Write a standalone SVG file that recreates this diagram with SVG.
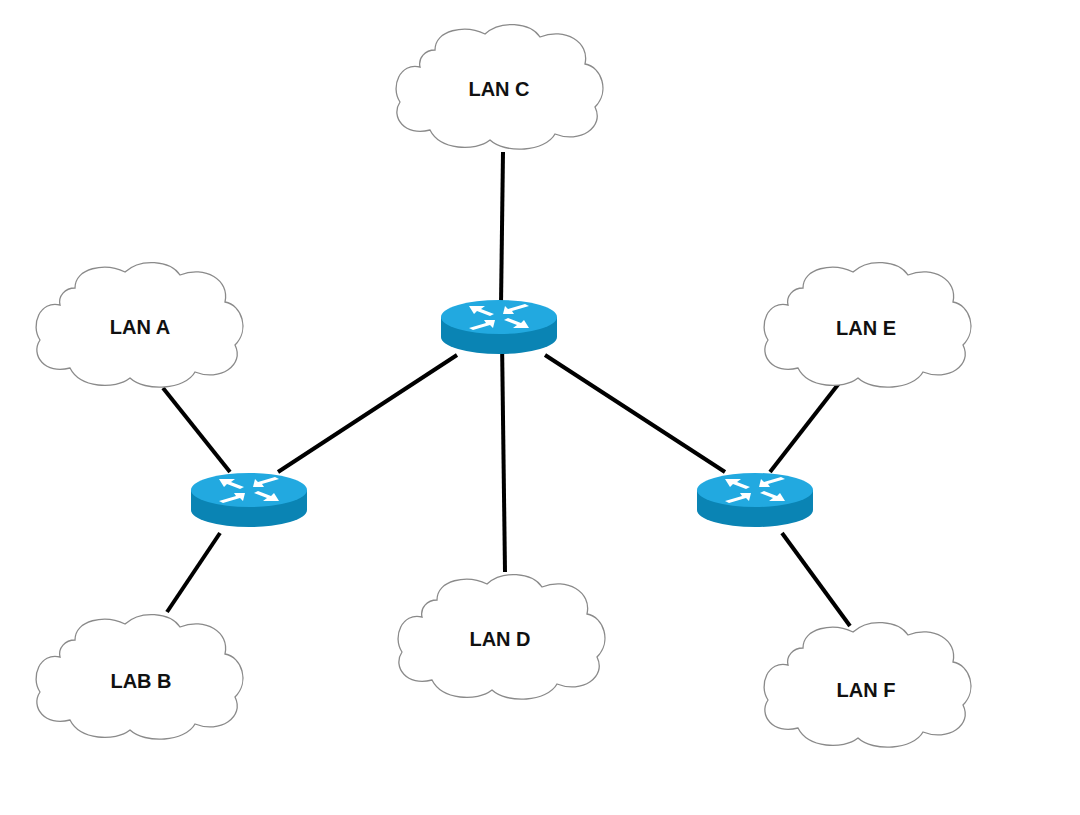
<svg xmlns="http://www.w3.org/2000/svg" width="1080" height="815" viewBox="0 0 1080 815">
<style>
.cloud{fill:#fff;stroke:#8a8a8a;stroke-width:1.3}
.lbl{font-family:"Liberation Sans",Arial,sans-serif;font-weight:bold;font-size:20px;fill:#111;text-anchor:middle}
.ln{stroke:#000;stroke-width:4;fill:none}
.side{fill:#0a84b4}
.top{fill:#22a9e0}
.arr{fill:#fff}
</style>
<defs>
<path id="cl" class="cloud" d="M30,45 C10,40 0,65 10,80 C0,95 15,115 40,108 C50,128 85,130 100,118 C115,132 155,130 165,112 C190,122 215,105 205,85 C220,70 212,45 195,42 C200,20 175,5 150,15 C140,0 110,-2 95,12 C75,2 45,8 45,28 C35,28 28,36 30,45 Z"/>
<g id="rt">
<path class="side" d="M-58,0 L-58,20 A58,17 0 0 0 58,20 L58,0 Z"/>
<ellipse class="top" cx="0" cy="0" rx="58" ry="17"/>
<g class="arr">
<polygon points="-30,-11 -14,-11 -18,-8 -5,-3 -9,-1 -22,-6 -25,-3"/>
<polygon points="30,11 14,11 18,8 5,3 9,1 22,6 25,3"/>
<polygon points="-4,3 -6,11 -9,8 -26,13 -30,11 -13,6 -15,3"/>
<polygon points="4,-3 6,-11 9,-8 26,-13 30,-11 13,-6 15,-3"/>
</g>
</g>
</defs>
<g id="connectors">
<line class="ln" x1="503" y1="152" x2="501" y2="305"/>
<line class="ln" x1="502" y1="340" x2="505" y2="572"/>
<line class="ln" x1="457" y1="355" x2="278" y2="472"/>
<line class="ln" x1="545" y1="355" x2="725" y2="472"/>
<line class="ln" x1="163" y1="388" x2="230" y2="472"/>
<line class="ln" x1="220" y1="533" x2="167" y2="612"/>
<line class="ln" x1="840" y1="382" x2="770" y2="472"/>
<line class="ln" x1="782" y1="533" x2="850" y2="626"/>
</g>
<g id="lanC"><use href="#cl" x="390" y="22"/><text class="lbl" x="499" y="96">LAN C</text></g>
<g id="lanA"><use href="#cl" x="30" y="260"/><text class="lbl" x="140" y="334">LAN A</text></g>
<g id="labB"><use href="#cl" x="30" y="612"/><text class="lbl" x="141" y="688">LAB B</text></g>
<g id="lanD"><use href="#cl" x="392" y="572"/><text class="lbl" x="500" y="646">LAN D</text></g>
<g id="lanE"><use href="#cl" x="758" y="260"/><text class="lbl" x="866" y="335">LAN E</text></g>
<g id="lanF"><use href="#cl" x="758" y="620"/><text class="lbl" x="866" y="697">LAN F</text></g>
<g id="r1"><use href="#rt" x="499" y="317"/></g>
<g id="r2"><use href="#rt" x="249" y="490"/></g>
<g id="r3"><use href="#rt" x="755" y="490"/></g>
</svg>
